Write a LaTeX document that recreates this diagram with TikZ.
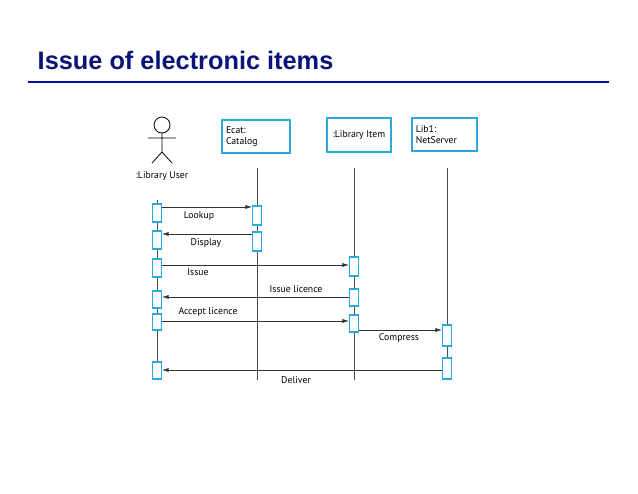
\documentclass[tikz,border=0pt]{standalone}
\usepackage{fontspec}
\setmainfont{PT Sans}
\newfontfamily\titlefont{Liberation Sans}
\usetikzlibrary{arrows.meta}
\definecolor{boxc}{RGB}{40,170,225}
\definecolor{navy}{RGB}{10,20,120}
\begin{document}
\begin{tikzpicture}[x=0.75pt,y=-0.75pt,
  obj/.style={draw=boxc,line width=1pt,fill=white,inner sep=0pt,align=left,font=\fontsize{7.3}{8.5}\selectfont},
  act/.style={draw=boxc,line width=1pt,fill=white,minimum width=6.5pt,inner sep=0pt},
  life/.style={draw=black!70,line width=0.4pt},
  msg/.style={draw=black!80,line width=0.4pt,-{Latex[length=5pt,width=3pt]}},
  lbl/.style={font=\fontsize{7.3}{8.5}\selectfont}]
\useasboundingbox (0,0) rectangle (638,493);
\node[anchor=west,font=\titlefont\bfseries\fontsize{19}{21}\selectfont,text=navy] (title) at (33,60) {Issue of electronic items};
\draw[draw=navy!60!blue,line width=1pt] (28,82) -- (609,82);
% actor
\draw[line width=0.6pt] (162,125) circle[radius=8];
\draw[line width=0.6pt] (162,133) -- (162,152) (148,138) -- (176,138) (152,163) -- (162,152) -- (172,163);
\node[lbl] (user) at (162,176) {:Library User};
% objects
\node[obj,minimum width=51pt,minimum height=24.75pt,text width=45pt] (cat) at (256,136.5) {Ecat:\\Catalog};
\node[obj,minimum width=48pt,minimum height=25.5pt,align=center] (item) at (359,135) {:Library Item};
\node[obj,minimum width=48.75pt,minimum height=24.75pt,text width=43pt] (srv) at (444.5,134.5) {Lib1:\\NetServer};
% lifelines
\coordinate (u0) at (157,200); \coordinate (u1) at (157,380);
\coordinate (c0) at (257,168); \coordinate (c1) at (257,380);
\coordinate (i0) at (354,168); \coordinate (i1) at (354,380);
\coordinate (s0) at (447,168); \coordinate (s1) at (447,380);
\draw[life] (u0)--(u1) (c0)--(c1) (i0)--(i1) (s0)--(s1);
% activations
\foreach \n/\x/\a/\b in {ua/157/204/222, ub/157/231/249, uc/157/259/277, ud/157/291/308, ue/157/314/330, uf/157/362/379,
  ca/257/206/225, cb/257/232/251, ia/354/257/276, ib/354/289/306, ic/354/315/332, sa/447/325/346, sb/447/358/379}
  \node[act,minimum height={(\b-\a)*0.75pt}] (\n) at (\x,{(\a+\b)/2}) {};
% messages
\draw[msg] (ua.east |- 0,207) -- (ca.west |- 0,207);
\draw[msg] (cb.west |- 0,234) -- (ub.east |- 0,234);
\draw[msg] (uc.east |- 0,265) -- (ia.west |- 0,265);
\draw[msg] (ib.west |- 0,297) -- (ud.east |- 0,297);
\draw[msg] (ue.east |- 0,321) -- (ic.west |- 0,321);
\draw[msg] (ic.east |- 0,330) -- (sa.west |- 0,330);
\draw[msg] (sb.west |- 0,370) -- (uf.east |- 0,370);
\node[lbl] (l1) at (199,216) {Lookup};
\node[lbl] (l2) at (206,243) {Display};
\node[lbl] (l3) at (198,272) {Issue};
\node[lbl] (l4) at (296,289) {Issue licence};
\node[lbl] (l5) at (208,312) {Accept licence};
\node[lbl] (l6) at (399,338) {Compress};
\node[lbl] (l7) at (296,380) {Deliver};
\end{tikzpicture}
\end{document}
